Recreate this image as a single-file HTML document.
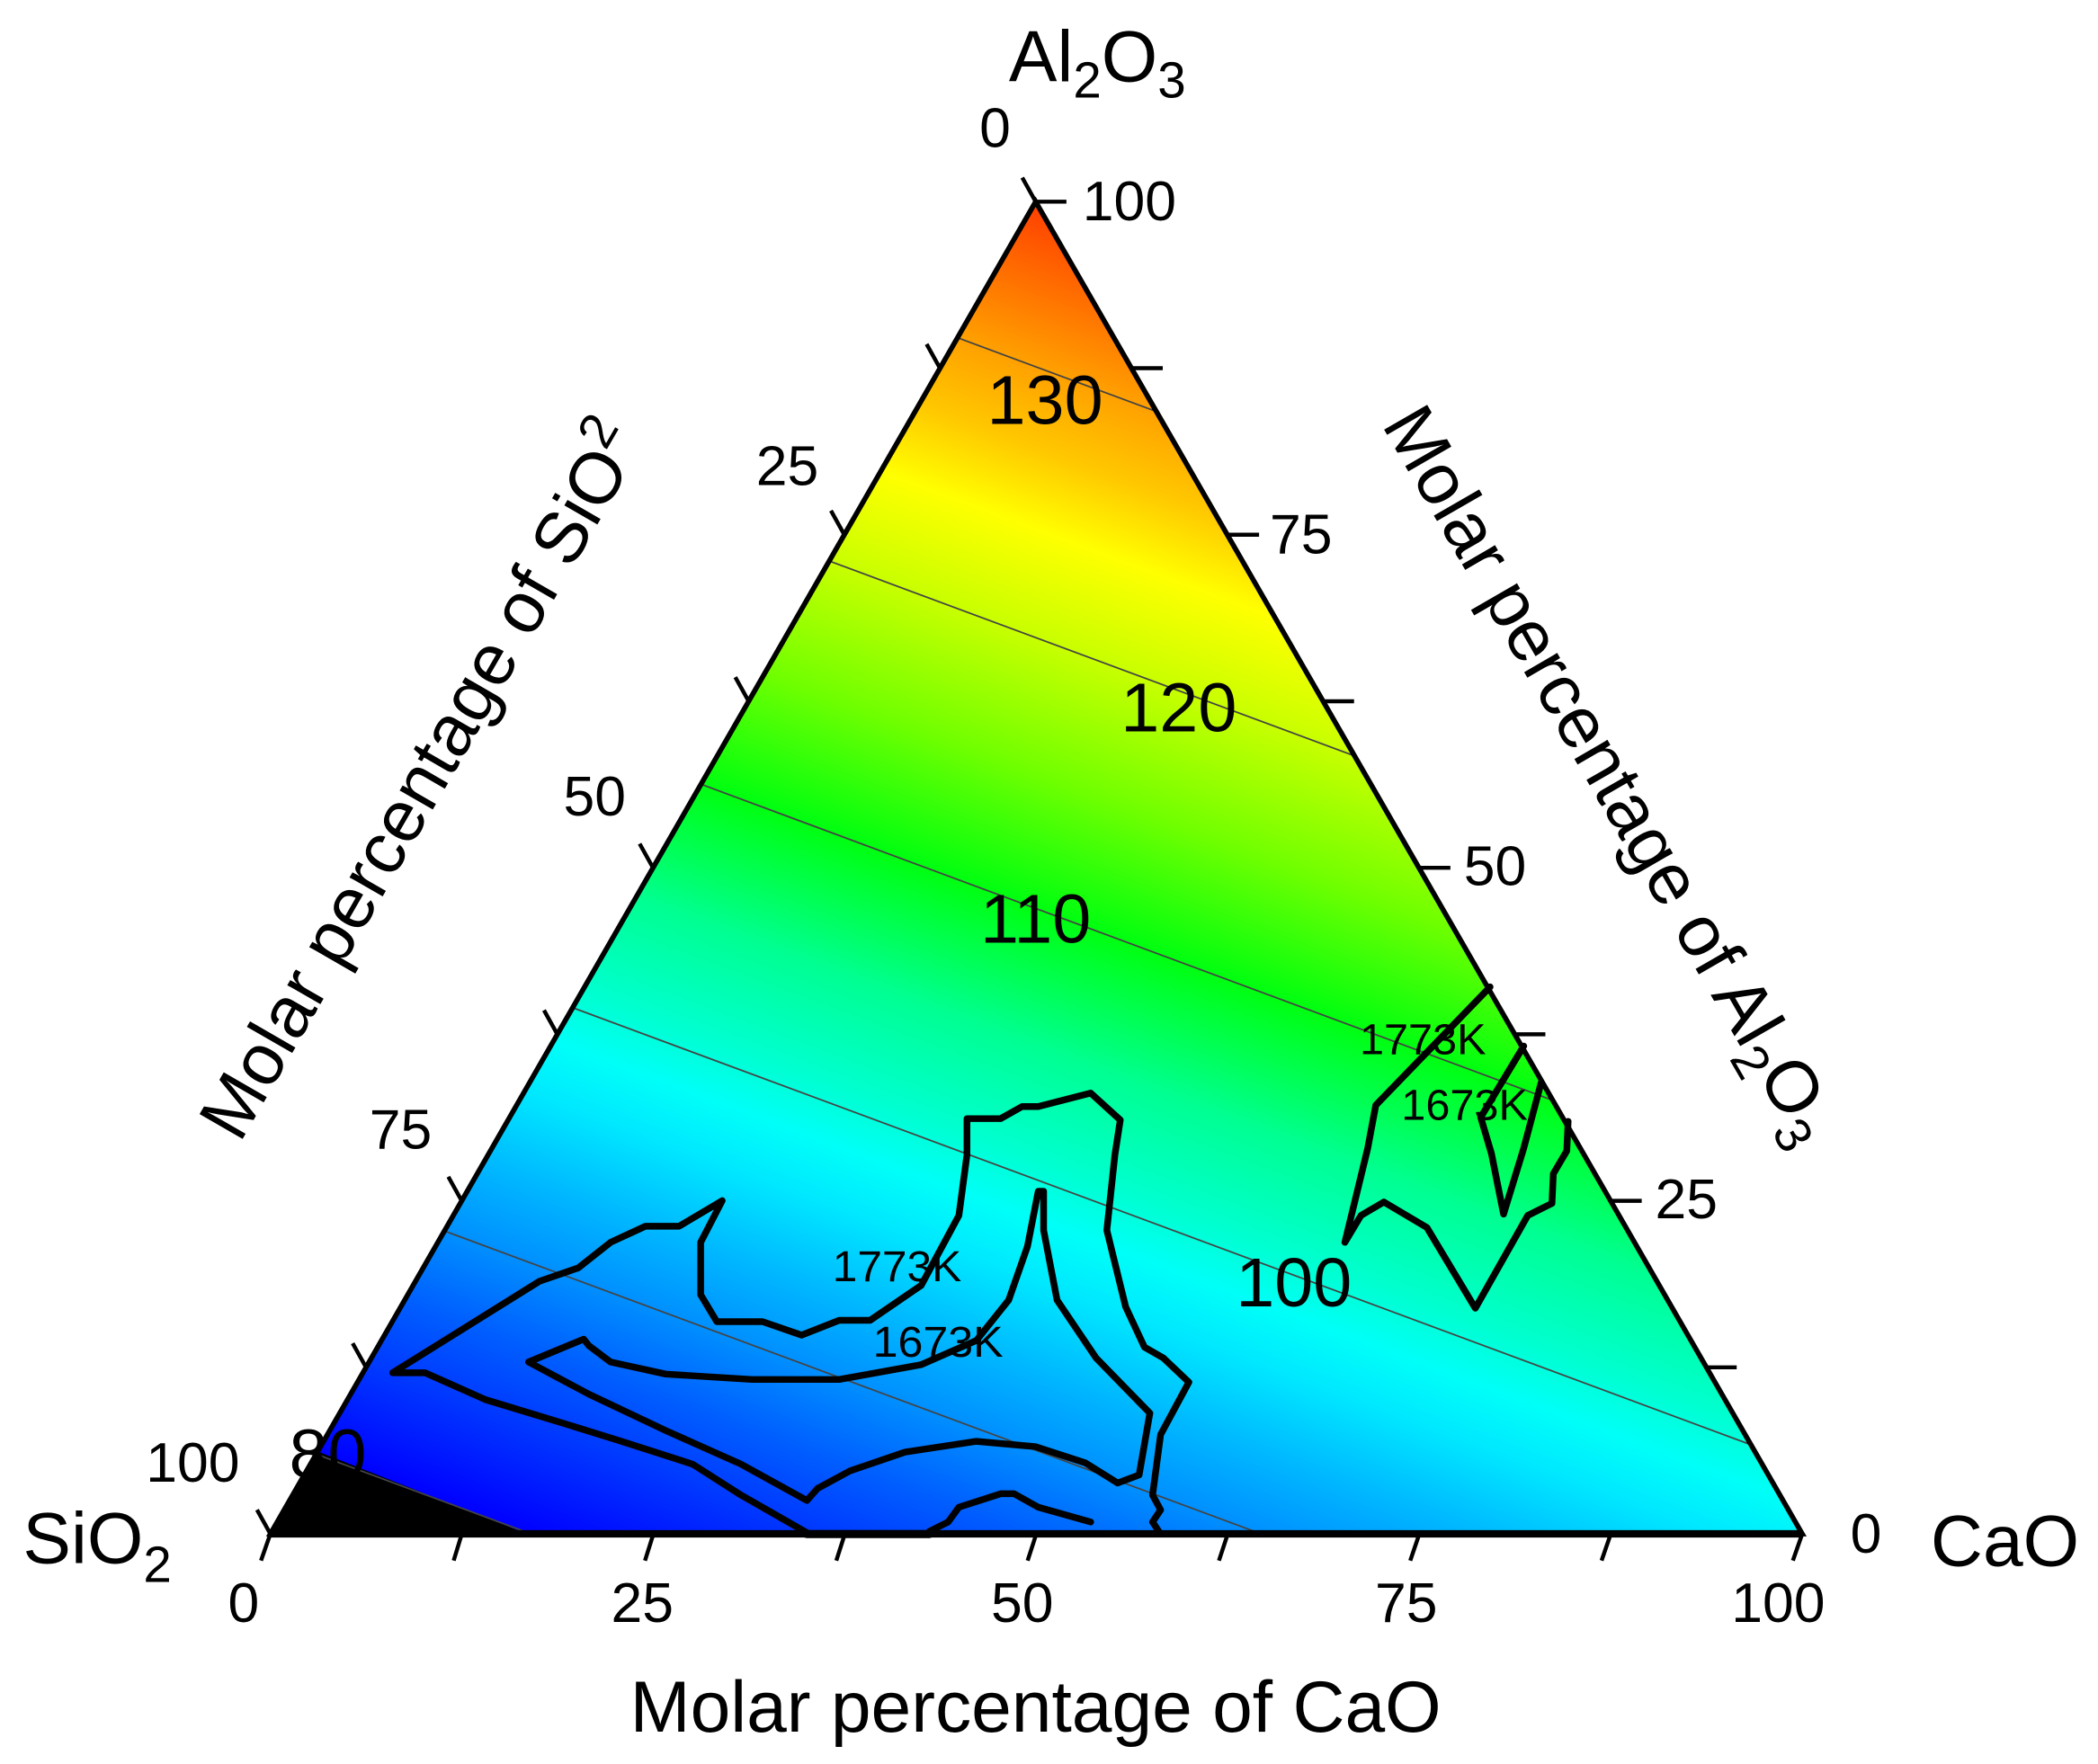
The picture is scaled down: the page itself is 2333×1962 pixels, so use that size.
<!DOCTYPE html>
<html><head><meta charset="utf-8"><style>html,body{margin:0;padding:0;background:#fff;overflow:hidden;width:2333px;height:1962px}svg{display:block}</style></head>
<body>
<svg width="2333" height="1962" viewBox="0 0 1560 1312" preserveAspectRatio="none" xmlns="http://www.w3.org/2000/svg" font-family="'Liberation Sans', Arial, sans-serif">
<g transform="matrix(0.9948 0 0 0.9948 -0.9 -1.2)">
<defs>
<linearGradient id="g" gradientUnits="userSpaceOnUse" x1="298" y1="1111" x2="668" y2="114">
<stop offset="0" stop-color="#0000ff"/>
<stop offset="0.071" stop-color="#0038ff"/>
<stop offset="0.125" stop-color="#0060ff"/>
<stop offset="0.179" stop-color="#0090ff"/>
<stop offset="0.232" stop-color="#00b8ff"/>
<stop offset="0.29" stop-color="#00e8ff"/>
<stop offset="0.33" stop-color="#00fff8"/>
<stop offset="0.37" stop-color="#00ffd0"/>
<stop offset="0.446" stop-color="#00ff90"/>
<stop offset="0.536" stop-color="#00ff10"/>
<stop offset="0.625" stop-color="#70ff00"/>
<stop offset="0.714" stop-color="#c8ff00"/>
<stop offset="0.786" stop-color="#ffff00"/>
<stop offset="0.839" stop-color="#ffc800"/>
<stop offset="0.893" stop-color="#ffa000"/>
<stop offset="0.946" stop-color="#ff7000"/>
<stop offset="1" stop-color="#ff4000"/>
</linearGradient>
<clipPath id="tri"><polygon points="203,1148 1348,1148 775,152"/></clipPath>
</defs>
<polygon points="203,1148 1348,1148 775,152" fill="url(#g)"/>
<g clip-path="url(#tri)">
<polygon points="150,1200 400,1150 245,1089 150,1050" fill="#000"/>
<g stroke="#444" stroke-width="1.2">
<line x1="-309" y1="-127" x2="1566" y2="569"/>
<line x1="-375" y1="51" x2="1500" y2="747"/>
<line x1="-441" y1="229" x2="1434" y2="925"/>
<line x1="-508" y1="407" x2="1368" y2="1103"/>
<line x1="-574" y1="585" x2="1302" y2="1281"/>
<line x1="-640" y1="763" x2="1236" y2="1459"/>
</g>
</g>
<polygon points="203,1148 1348,1148 775,152" fill="none" stroke="#000" stroke-width="3.8" stroke-linejoin="miter"/>
<line x1="203" y1="1148" x2="1348" y2="1148" stroke="#000" stroke-width="5.5"/>
<g stroke="#000" stroke-width="3">
<line x1="1276.4" y1="1023.5" x2="1299" y2="1023.5"/><line x1="1204.8" y1="899" x2="1228" y2="899"/>
<line x1="1133.1" y1="774.5" x2="1156" y2="774.5"/><line x1="1061.5" y1="650" x2="1085" y2="650"/>
<line x1="989.9" y1="525.5" x2="1013" y2="525.5"/><line x1="918.3" y1="401" x2="942" y2="401"/>
<line x1="846.6" y1="276.5" x2="870" y2="276.5"/><line x1="775" y1="152" x2="798" y2="152"/>
<line x1="775" y1="152" x2="765" y2="134"/><line x1="703.5" y1="276.5" x2="693.5" y2="258.5"/>
<line x1="632" y1="401" x2="622" y2="383"/><line x1="560.5" y1="525.5" x2="550.5" y2="507.5"/>
<line x1="489" y1="650" x2="479" y2="632"/><line x1="417.5" y1="774.5" x2="407.5" y2="756.5"/>
<line x1="346" y1="899" x2="336" y2="881"/><line x1="274.5" y1="1023.5" x2="264.5" y2="1005.5"/>
<line x1="203" y1="1148" x2="193" y2="1130"/>
<line x1="203" y1="1148" x2="196" y2="1168"/><line x1="346.1" y1="1148" x2="340" y2="1168"/>
<line x1="489.3" y1="1148" x2="483" y2="1168"/><line x1="632.4" y1="1148" x2="626" y2="1168"/>
<line x1="775.5" y1="1148" x2="769" y2="1168"/><line x1="918.6" y1="1148" x2="912" y2="1168"/>
<line x1="1061.8" y1="1148" x2="1055" y2="1168"/><line x1="1204.9" y1="1148" x2="1198" y2="1168"/>
<line x1="1348" y1="1148" x2="1341" y2="1168"/>
</g>
<g font-size="42" fill="#000">
<text x="810" y="166">100</text><text x="950" y="415">75</text><text x="1095" y="663">50</text>
<text x="1238" y="912">25</text><text x="1384" y="1162">0</text>
<text x="733" y="111">0</text><text x="566" y="364">25</text><text x="422" y="611">50</text>
<text x="277" y="860">75</text><text x="110" y="1109">100</text>
<text x="183" y="1214" text-anchor="middle">0</text><text x="481" y="1214" text-anchor="middle">25</text>
<text x="765" y="1214" text-anchor="middle">50</text><text x="1052" y="1214" text-anchor="middle">75</text>
<text x="1330" y="1214" text-anchor="middle">100</text>
</g>
<g font-size="52" fill="#000">
<text x="782" y="318" text-anchor="middle">130</text>
<text x="882" y="548" text-anchor="middle">120</text>
<text x="775" y="706" text-anchor="middle">110</text>
<text x="968" y="978" text-anchor="middle">100</text>
<text x="217" y="1106">80</text>
</g>
<g font-size="54" fill="#000">
<text x="755" y="62">Al<tspan font-size="38" dy="12">2</tspan><tspan dy="-12">O</tspan><tspan font-size="38" dy="12">3</tspan></text>
<text x="18" y="1170">SiO<tspan font-size="38" dy="14">2</tspan></text>
<text x="1444" y="1172">CaO</text>
<text x="775" y="1296" text-anchor="middle">Molar percentage of CaO</text>
<text transform="translate(316,585) rotate(-60)" text-anchor="middle" y="18">Molar percentage of SiO<tspan font-size="38" dy="-22">2</tspan></text>
<text transform="translate(1205,580) rotate(60)" text-anchor="middle" y="18">Molar percentage of Al<tspan font-size="38" dy="12">2</tspan><tspan dy="-12">O</tspan><tspan font-size="38" dy="12">3</tspan></text>
</g>
</g>
<g fill="none" stroke="#000" stroke-width="5" stroke-linejoin="round" stroke-linecap="round">
<polyline points="600,1140 551,1112 515,1089 462,1072 417,1058 361,1041 316,1021 292,1021 401,953 430,943 454,924 480,912 505,912 537,893 521,924 521,963 533,983 567,983 596,993 624,982 647,982 685,956 713,904 719,859 719,832 744,832 760,823 772,823 811,813 833,833 829,859 823,915 837,972 851,1002 865,1010 884,1028 863,1067 857,1112 863,1123 857,1132 863,1141"/>
<polyline points="434,996 393,1013 438,1037 495,1064 551,1089 600,1116 608,1107 632,1094 673,1080 726,1072 770,1076 807,1088 831,1103 847,1097 855,1051 815,1010 786,967 776,915 776,886 772,886 764,927 750,967 726,997 685,1015 624,1026 559,1026 495,1022 454,1013 438,1001 434,996"/>
<polyline points="691,1139 705,1132 713,1121 744,1111 754,1111 772,1121 811,1132"/>
<line x1="600" y1="1141" x2="691" y2="1141" stroke-width="6"/>
<polyline points="1108,734 1023,822 1017,854 1000,924 1012,904 1029,894 1061,913 1097,973 1136,904 1154,895 1155,873 1165,856 1166,834"/>
<polyline points="1133,778 1101,831 1109,858 1118,903 1133,854 1146,805"/>
</g>
<g font-size="32" fill="#000">
<text x="619" y="953" textLength="96" lengthAdjust="spacingAndGlyphs">1773K</text>
<text x="649" y="1009" textLength="97" lengthAdjust="spacingAndGlyphs">1673K</text>
<text x="1011" y="784" textLength="94" lengthAdjust="spacingAndGlyphs">1773K</text>
<text x="1042" y="833" textLength="94" lengthAdjust="spacingAndGlyphs">1673K</text>
</g>
</svg>
</body></html>
